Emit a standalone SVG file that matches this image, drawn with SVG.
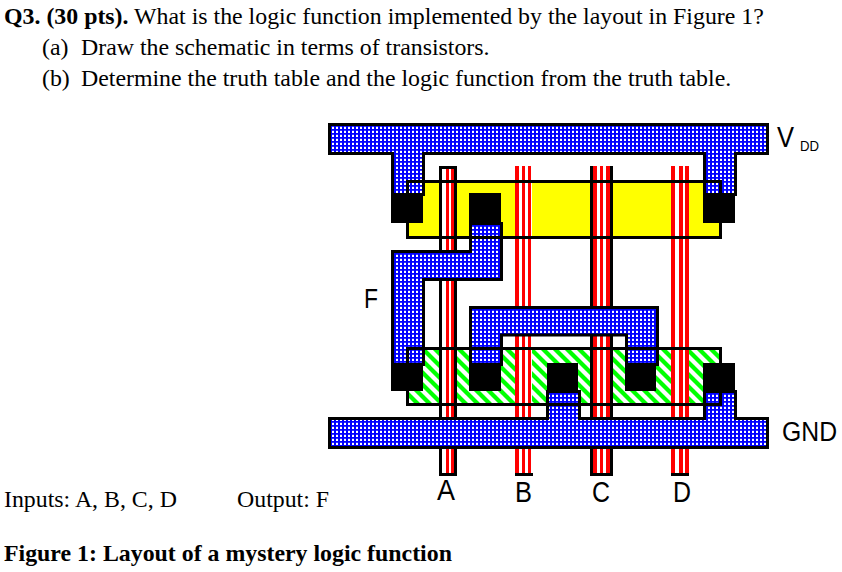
<svg xmlns="http://www.w3.org/2000/svg" width="842" height="572" viewBox="0 0 842 572">
<defs>
<pattern id="dots" width="4" height="4" patternUnits="userSpaceOnUse" patternTransform="translate(331 126)"><rect width="4" height="4" fill="#0000ff"/><rect x="1" y="1" width="2" height="2" fill="#ffffff"/><rect x="1" y="0" width="2" height="1" fill="#3333ff"/></pattern>
<pattern id="hatch" width="12" height="12" patternUnits="userSpaceOnUse" patternTransform="translate(406 347)"><rect width="12" height="12" fill="#fff"/><path d="M0 0H6L18 12H12ZM-12 0H-6L6 12H0Z" fill="#00ff00"/></pattern>
</defs>
<style>
.q{font-family:"Liberation Serif","Times New Roman",serif;font-size:23.850px;fill:#000}
.b{font-weight:bold}
.l{font-family:"Liberation Sans",Arial,sans-serif;fill:#000}
.m{fill:url(#dots);stroke:#000;stroke-width:3}
.act{fill:none;stroke:#000;stroke-width:3}
.r{fill:#ff0000}.w{fill:#fff}.k{fill:#000}
</style>
<g id="text">
<text class="q" x="4" y="24"><tspan class="b">Q3. (30 pts).</tspan> What is the logic function implemented by the layout in Figure 1?</text>
<text class="q" x="42" y="55">(a)</text><text class="q" x="81" y="55">Draw the schematic in terms of transistors.</text>
<text class="q" x="42" y="86">(b)</text><text class="q" x="81" y="86">Determine the truth table and the logic function from the truth table.</text>
<text class="q" x="4" y="507">Inputs: A, B, C, D</text>
<text class="q" x="237" y="507">Output: F</text>
<text class="q b" x="4" y="561">Figure 1: Layout of a mystery logic function</text>
</g>
<g id="active-p"><rect x="407.500" y="181.500" width="313" height="56" fill="#ffff00"/></g>
<g id="active-n"><rect x="407.500" y="348.500" width="313" height="56" fill="url(#hatch)" shape-rendering="crispEdges"/></g>
<g id="poly-A"><rect x="439" y="166" width="18" height="310" class="k"/><rect x="442" y="169" width="12" height="304" class="w"/><rect x="446" y="169" width="3" height="304" class="r"/><rect x="451" y="169" width="3" height="304" class="r"/></g>
<g id="poly-B"><rect x="515" y="166" width="17" height="309" class="w"/><rect x="515" y="166" width="4" height="309" class="r"/><rect x="522" y="166" width="3" height="309" class="r"/><rect x="528" y="166" width="3" height="309" class="r"/><rect x="515" y="473" width="18" height="3" class="k"/></g>
<g id="poly-C"><rect x="590" y="166" width="23" height="310" class="k"/><rect x="593" y="166" width="17" height="307" class="w"/><rect x="593" y="166" width="4" height="307" class="r"/><rect x="600" y="166" width="3" height="307" class="r"/><rect x="606" y="166" width="4" height="307" class="r"/></g>
<g id="poly-D"><rect x="671" y="166" width="18" height="309" class="w"/><rect x="671" y="166" width="4" height="309" class="r"/><rect x="679" y="166" width="4" height="309" class="r"/><rect x="685" y="166" width="4" height="309" class="r"/><rect x="671" y="473" width="18" height="3" class="k"/></g>
<g id="metal">
<path id="vdd-rail" class="m" d="M329.500 124.500H767.500V153.500H735.500V194.500H704.500V153.500H423.500V194.500H392.500V153.500H329.500Z"/>
<path id="gnd-rail" class="m" d="M329.500 418.500H547.500V391.500H579.500V418.500H704.500V391.500H735.500V418.500H767.500V447.500H329.500Z"/>
<path id="f-net" class="m" d="M392.500 251.500H470.500V223.500H501.500V279.500H423.500V364.500H392.500Z"/>
<path id="mid-net" class="m" d="M470.500 307.500H657.500V364.500H626.500V335H501.500V364.500H470.500Z"/>
</g>
<g id="active-outlines"><rect class="act" x="407.500" y="181.500" width="313" height="56"/><rect class="act" x="407.500" y="348.500" width="313" height="56"/></g>
<g id="contacts">
<rect class="k" x="391" y="193" width="32" height="30"/><rect class="k" x="469" y="193" width="32" height="30"/><rect class="k" x="703" y="193" width="32" height="30"/>
<rect class="k" x="391" y="363" width="32" height="28"/><rect class="k" x="469" y="363" width="32" height="28"/><rect class="k" x="547" y="363" width="31" height="28"/><rect class="k" x="625" y="363" width="31" height="28"/><rect class="k" x="703" y="363" width="32" height="28"/>
</g>
<g id="labels">
<text class="l" x="777" y="147" font-size="30" textLength="17" lengthAdjust="spacingAndGlyphs">V</text><text class="l" x="800" y="151" font-size="15.500" textLength="19" lengthAdjust="spacingAndGlyphs">DD</text>
<text class="l" x="782" y="441" font-size="27" textLength="55" lengthAdjust="spacingAndGlyphs">GND</text>
<text class="l" x="364" y="308" font-size="28" textLength="14" lengthAdjust="spacingAndGlyphs">F</text>
<text class="l" x="437" y="500" font-size="29" textLength="18" lengthAdjust="spacingAndGlyphs">A</text>
<text class="l" x="515" y="502" font-size="29" textLength="17" lengthAdjust="spacingAndGlyphs">B</text>
<text class="l" x="592" y="502" font-size="29" textLength="18" lengthAdjust="spacingAndGlyphs">C</text>
<text class="l" x="673" y="502" font-size="29" textLength="18" lengthAdjust="spacingAndGlyphs">D</text>
</g>
</svg>
